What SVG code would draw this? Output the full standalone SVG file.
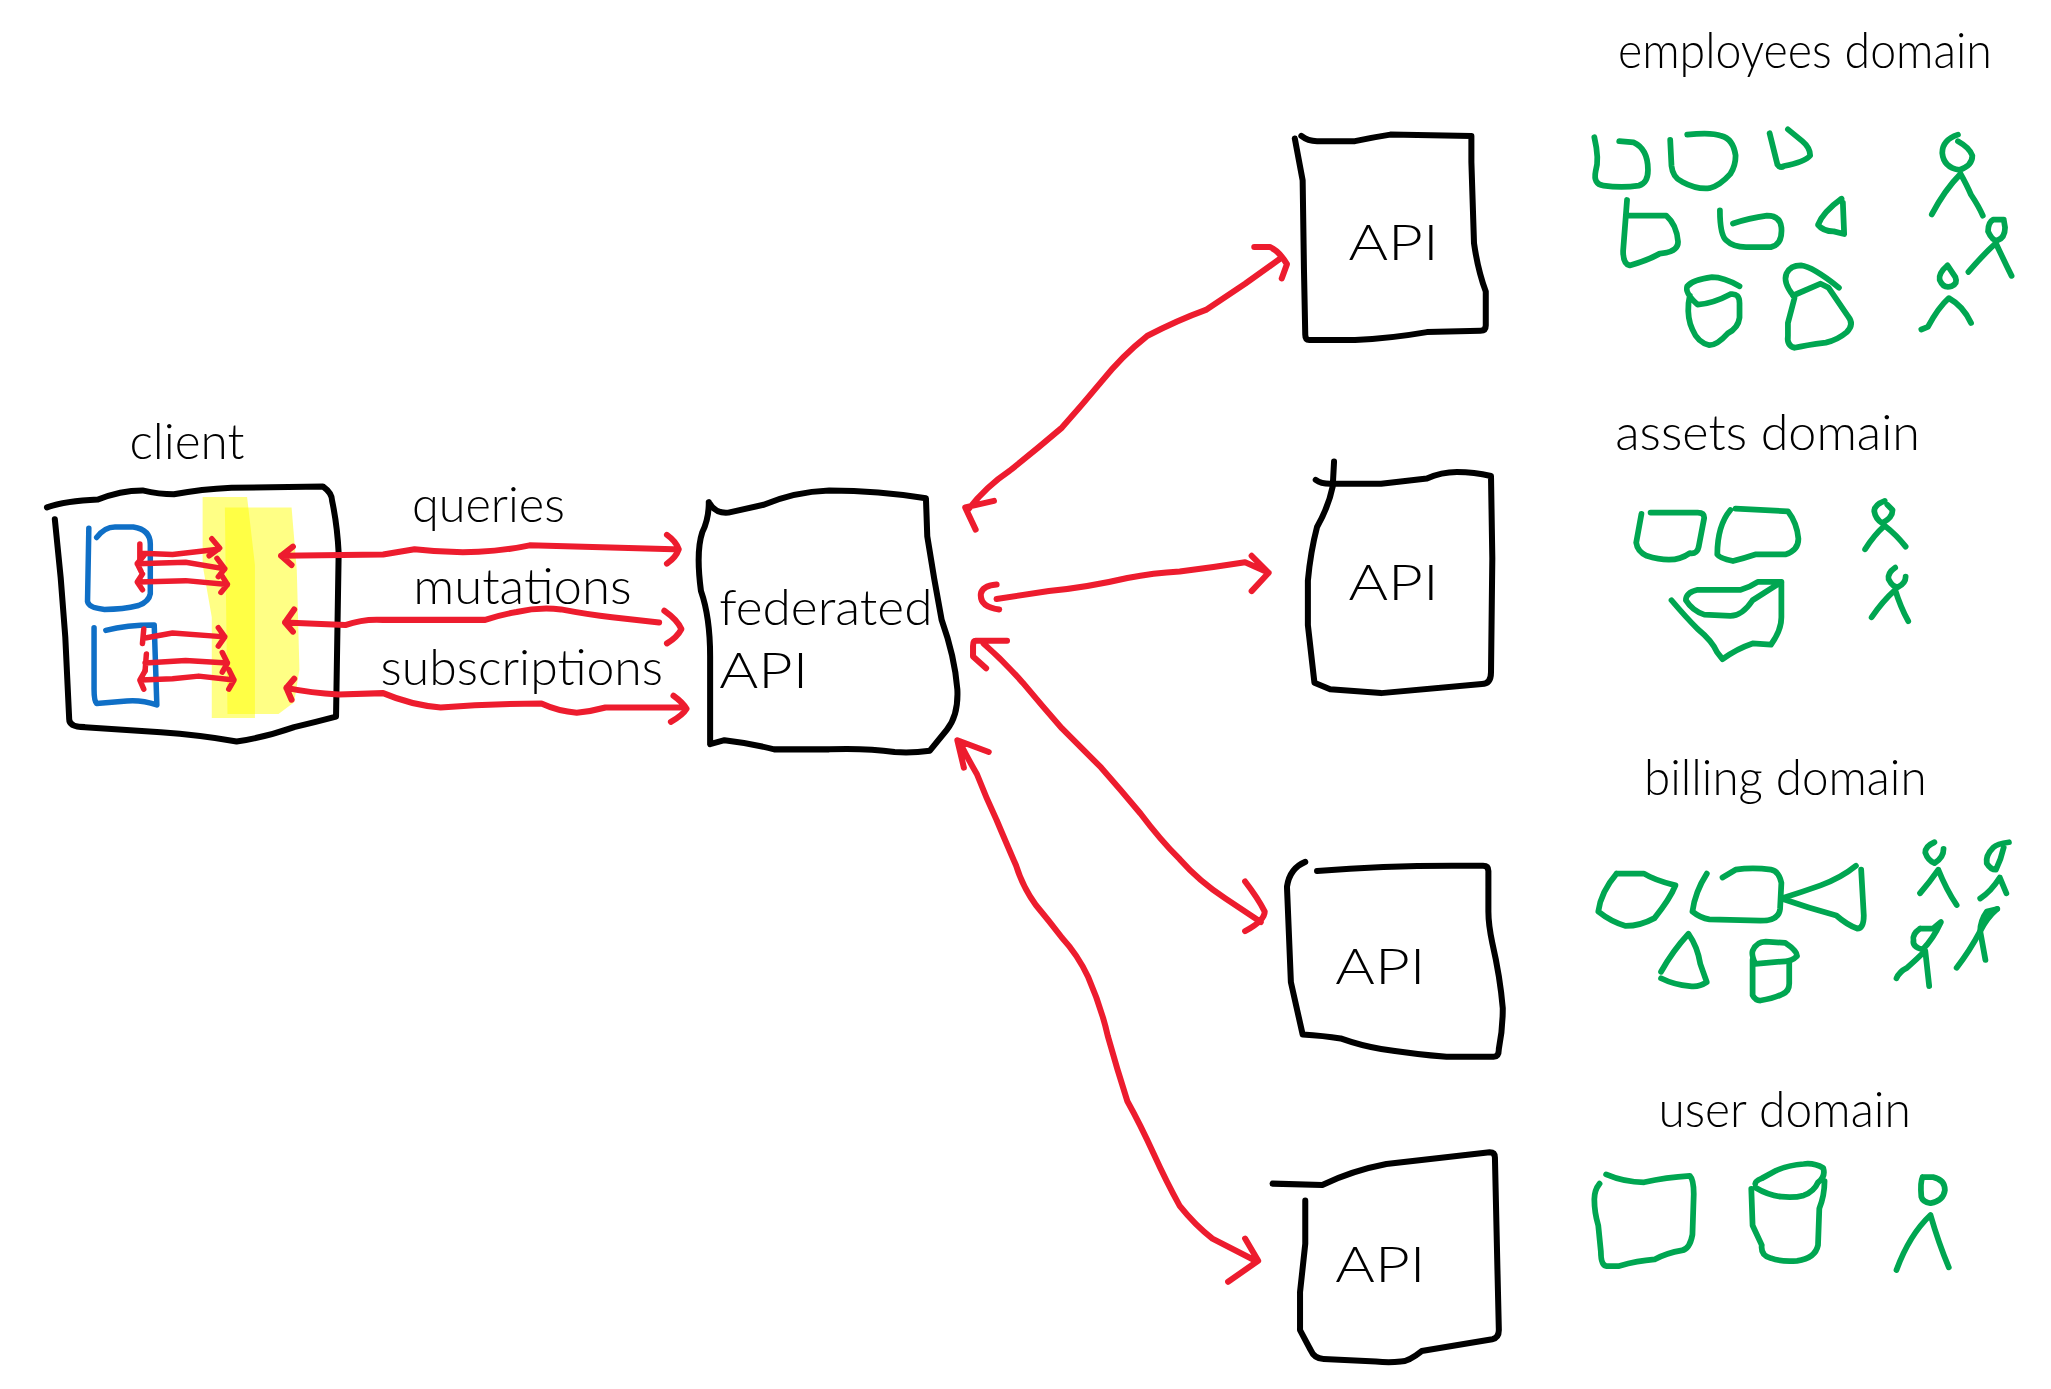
<svg xmlns="http://www.w3.org/2000/svg" width="2051" height="1389" viewBox="0 0 2051 1389">
<style>
path{fill:none;stroke-linecap:round;stroke-linejoin:round}
.k path{stroke:#000;stroke-width:4.6}
.g path{stroke:#00a651;stroke-width:4.4}
.b path{stroke:#0f6fc6;stroke-width:4.2}
#connectors path{stroke:#ed1c2e;stroke-width:4.6}
#connectors .thin{stroke-width:4.2}
.y{fill:#ffff00;opacity:.48}
text{font-family:"Lato","Open Sans","Liberation Sans",sans-serif;font-weight:300;font-size:38px;fill:#000}
</style>
<rect width="2051" height="1389" fill="#fff"/>
<g transform="translate(2.5 2.5) scale(1.308)">
<g id="client" class="k">
<path d="M34,386 Q48,381 73,380 Q90,373 107,373 Q120,376 131,376 Q152,372 175,371 L245,370 Q252,375 252,381 Q256,400 257,421 L255,546 Q240,550 223,554 Q200,562 179,565 Q150,560 121,558 L63,554 Q51,554 51,548 L48,485 Q45,440 40,395"/>
<polygon class="y" points="153,378 187,378 193,430 193,547 160,547 160,470 153,430"/>
<polygon class="y" points="170,386 221,386 225,434 227,510 223,535 211,544 172,544"/>
<text x="97" y="349" textLength="88" lengthAdjust="spacingAndGlyphs">client</text>
</g>
<g id="client-view-1" class="b"><path d="M72,409 Q78,401 86,401 L100,401 Q113,403 113,414 L113,452 Q112,458 104,461 Q92,464 78,464 Q66,463 65,458 L66,402"/></g>
<g id="client-view-2" class="b"><path d="M79,480 Q95,476 116,476 L118,537 Q106,533 95,534 L72,536 Q70,534 70,525 L70,478"/></g>
<g id="federated" class="k">
<path d="M540,382 Q545,391 555,390 L582,384 Q605,374 632,373 Q670,373 706,379 L707,408 Q712,440 718,472 Q728,500 730,525 Q731,545 722,556 L709,572 Q695,574 682,573 Q660,570 632,571 L590,571 Q570,566 552,564 L541,567 L541,500 Q541,470 534,450 Q530,420 535,405 Q540,395 540,382"/>
<text x="548" y="476" textLength="163" lengthAdjust="spacingAndGlyphs">federated</text>
<text x="548" y="524" textLength="68" lengthAdjust="spacingAndGlyphs">API</text>
</g>
<g id="api-employees" class="k">
<path d="M993,102 Q998,106 1005,106 L1034,106 Q1048,103 1061,101 L1123,102 L1123,122 L1125,184 Q1128,205 1134,221 L1134,247 Q1134,251 1130,251 L1089,252 Q1060,257 1034,258 L999,258 Q996,258 996,254 L995,204 L994,136 L988,104"/>
<text x="1029" y="197" textLength="69" lengthAdjust="spacingAndGlyphs">API</text>
</g>
<g id="api-assets" class="k">
<path d="M1004,365 Q1008,368 1015,368 L1054,368 Q1072,366 1089,364 Q1100,359 1112,359 Q1125,359 1138,362 L1139,425 L1138,512 Q1138,521 1131,521 L1054,528 L1015,525 L1003,520 L998,476 L998,442 Q1000,420 1005,401 Q1014,385 1017,370 L1018,351"/>
<text x="1029" y="457" textLength="69" lengthAdjust="spacingAndGlyphs">API</text>
</g>
<g id="api-billing" class="k">
<path d="M996,657 Q984,662 982,676 L985,749 L994,789 Q1010,790 1023,792 Q1040,798 1054,800 Q1080,804 1104,806 L1140,806 Q1144,806 1144,800 Q1147,785 1147,769 Q1145,745 1139,719 Q1136,705 1136,695 L1136,664 Q1136,660 1132,660 L1108,660 Q1055,660 1005,664"/>
<text x="1019" y="750" textLength="69" lengthAdjust="spacingAndGlyphs">API</text>
</g>
<g id="api-user" class="k">
<path d="M971,903 L1009,904 Q1032,893 1058,888 L1137,879 Q1141,879 1141,883 L1143,972 L1144,1015 Q1144,1021 1139,1022 L1085,1031 Q1075,1039 1069,1039 Q1060,1040 1050,1039 L1010,1037 Q1003,1037 1000,1030 L992,1015 L992,986 L996,949 L996,916"/>
<text x="1019" y="978" textLength="69" lengthAdjust="spacingAndGlyphs">API</text>
</g>
<g id="employees-domain" class="g">
<text x="1235" y="50" textLength="286" lengthAdjust="spacingAndGlyphs">employees domain</text>
<path d="M1217,103 Q1221,120 1218,129 Q1216,139 1224,140 Q1238,142 1251,140 Q1258,138 1258,128 Q1258,112 1247,107 L1236,106"/>
<path d="M1288,101 Q1307,99 1314,102 Q1323,104 1325,117 Q1325,125 1321,131 Q1313,140 1305,142 Q1295,143 1284,137 Q1277,134 1276,125 L1275,105"/>
<path d="M1351,100 L1357,124 Q1359,127 1362,125 Q1378,122 1382,117 Q1382,111 1376,106 L1365,97"/>
<path d="M1495,101 Q1483,105 1483,115 Q1484,126 1496,128 Q1506,125 1506,117 Q1504,111 1495,106"/>
<path d="M1475,162 Q1485,143 1497,131 Q1502,140 1505,147 Q1511,156 1514,163"/>
<path d="M1242,151 L1239,190 Q1239,200 1244,201 Q1258,197 1267,192 Q1281,191 1281,183 Q1280,170 1272,163 L1242,163"/>
<path d="M1313,159 Q1313,178 1318,182 Q1323,187 1333,187 L1352,187 Q1361,185 1360,172 Q1359,163 1349,163 Q1335,165 1323,169"/>
<path d="M1406,150 Q1392,160 1388,170 Q1392,175 1400,175 L1408,177 L1407,153"/>
<path d="M1530,166 L1522,166 Q1518,168 1518,175 Q1521,182 1525,182 Q1531,180 1531,172 L1530,166"/>
<path d="M1503,206 Q1514,193 1524,184 Q1530,197 1536,209"/>
<path d="M1487,201 Q1480,207 1481,212 Q1484,219 1490,217 Q1495,215 1493,210 L1487,201"/>
<path d="M1467,250 L1472,248 Q1480,233 1488,226 Q1499,232 1505,245"/>
<path d="M1328,217 Q1316,210 1307,210 Q1292,212 1288,217 Q1286,222 1296,231 Q1308,230 1321,223 Q1328,222 1328,230 L1328,241 Q1327,249 1319,253 Q1311,262 1305,262 Q1296,260 1292,250 Q1288,242 1289,230 L1290,224"/>
<path d="M1369,224 Q1361,214 1364,207 Q1367,201 1375,201 Q1384,202 1404,218"/>
<path d="M1369,224 L1390,215 L1396,218 L1411,240 Q1416,246 1410,252 Q1403,258 1394,260 Q1378,262 1370,264 Q1364,262 1365,255 L1365,245 L1370,226"/>
</g>
<g id="assets-domain" class="g">
<text x="1233" y="342" textLength="233" lengthAdjust="spacingAndGlyphs">assets domain</text>
<path d="M1253,391 L1249,413 Q1250,420 1257,423 Q1266,426 1274,426 Q1283,426 1290,421 Q1296,422 1297,415 L1301,394 Q1301,390 1296,390 L1260,390"/>
<path d="M1321,388 Q1311,400 1311,422 Q1313,425 1323,427 Q1331,425 1340,422 L1363,422 Q1373,419 1373,410 Q1372,398 1365,389 L1325,387"/>
<path d="M1276,457 Q1287,470 1296,479 Q1307,488 1311,497 L1315,502 Q1326,494 1338,490 L1352,491 Q1360,480 1360,470 L1360,443 L1342,443 Q1336,447 1329,449 L1296,449 Q1287,451 1287,457 Q1292,465 1301,468 L1321,469 Q1330,469 1338,457 L1360,443"/>
<path d="M1439,381 Q1431,384 1431,389 Q1432,395 1437,398 Q1445,394 1445,388 L1441,384"/>
<path d="M1424,418 Q1431,407 1439,400 Q1448,407 1455,416"/>
<path d="M1447,432 Q1441,436 1442,441 Q1445,447 1449,447 Q1455,444 1455,439"/>
<path d="M1429,470 Q1437,458 1447,449 Q1451,462 1457,473"/>
</g>
<g id="billing-domain" class="g">
<text x="1255" y="606" textLength="216" lengthAdjust="spacingAndGlyphs">billing domain</text>
<path d="M1234,666 L1255,666 Q1263,671 1279,675 Q1275,685 1263,700 Q1252,706 1241,706 Q1230,703 1220,695 Q1222,680 1234,666"/>
<path d="M1303,666 Q1294,680 1292,695 Q1298,700 1305,701 L1344,702 Q1358,702 1359,693 L1360,673 Q1358,664 1352,663 Q1338,661 1325,663 L1315,669"/>
<path d="M1360,685 Q1376,680 1390,675 Q1406,669 1417,660"/>
<path d="M1421,663 L1423,698 Q1423,708 1418,708 Q1410,705 1402,698 Q1380,692 1360,685"/>
<path d="M1268,741 Q1277,725 1289,712 Q1296,722 1298,735 L1303,749 Q1297,753 1290,752 Q1278,751 1268,746"/>
<path d="M1340,735 Q1337,728 1338,725 Q1341,718 1348,718 L1363,719 Q1372,725 1372,729 Q1368,733 1363,733 L1340,735"/>
<path d="M1338,732 L1338,759 Q1340,763 1344,763 Q1353,762 1361,758 Q1366,756 1366,750 L1366,734"/>
<path d="M1477,642 Q1470,645 1470,650 Q1472,656 1477,658 Q1484,654 1484,647"/>
<path d="M1466,681 Q1473,673 1480,663 Q1486,678 1494,690"/>
<path d="M1534,642 Q1525,643 1522,646 Q1516,652 1517,658 Q1520,663 1524,663 Q1528,655 1530,646"/>
<path d="M1512,685 Q1520,680 1527,669 L1532,681"/>
<path d="M1466,708 L1476,708 L1482,703 Q1476,716 1468,724 Q1460,722 1461,717 Q1460,712 1466,708"/>
<path d="M1448,746 Q1450,741 1456,738 Q1464,731 1470,725 L1473,752"/>
<path d="M1525,693 L1517,695 Q1512,702 1512,710 L1516,732"/>
<path d="M1494,738 Q1504,725 1512,710 Q1517,700 1525,693"/>
</g>
<g id="user-domain" class="g">
<text x="1266" y="860" textLength="193" lengthAdjust="spacingAndGlyphs">user domain</text>
<path d="M1226,896 Q1240,902 1255,902 Q1272,898 1290,897 Q1293,900 1293,911 L1292,942 Q1290,953 1284,954 Q1272,956 1263,961 Q1250,962 1236,966 L1226,966 Q1222,965 1222,955 L1220,935 Q1217,925 1217,915 Q1217,908 1221,903"/>
<path d="M1340,906 Q1350,912 1360,913 Q1370,914 1377,912 Q1385,909 1388,902 Q1394,898 1392,891 Q1385,887 1377,888 Q1365,889 1356,893 L1345,899 Q1340,901 1340,903"/>
<path d="M1337,907 L1338,935 L1345,950 Q1344,958 1352,960 Q1360,963 1372,962 Q1386,960 1388,950 L1389,922 Q1393,912 1393,901"/>
<path d="M1468,898 L1476,898 Q1485,900 1485,908 Q1484,916 1474,918 Q1468,917 1467,913 Q1466,902 1468,898"/>
<path d="M1448,969 Q1458,942 1474,927 Q1480,948 1488,967"/>
</g>
<g id="connectors">
<path class="thin" d="M106,421 L130,422 L165,418 M105,414 L105,429 M160,410 L166,417 L158,423"/>
<path class="thin" d="M103,429 L140,428 L170,433 M108,423 L103,429 L106,435 M164,425 L170,433 L165,439"/>
<path class="thin" d="M104,443 L140,442 L172,445 M107,437 L103,443 L107,449 M167,437 L172,445 L167,451"/>
<path class="thin" d="M108,486 L130,482 L170,485 M108,479 L107,490 M165,478 L170,485 L165,492"/>
<path class="thin" d="M109,505 L140,503 L172,505 M110,498 L109,511 M168,497 L172,505 L168,512"/>
<path class="thin" d="M106,518 L130,517 L150,515 L177,518 M109,511 L105,518 L108,525 M173,510 L177,518 L173,525"/>
<path d="M213,423 L291,422 Q303,420 315,418 Q340,421 364,420 Q384,419 403,415 L513,418 M222,416 L213,423 L221,430 M508,407 Q515,412 517,418 Q515,424 508,429"/>
<path d="M216,474 L262,476 Q276,471 291,472 L369,472 Q381,468 393,466 Q410,462 427,464 Q448,468 466,470 L502,474 M223,464 L216,474 L222,481 M506,465 Q516,472 519,479 Q516,485 508,490"/>
<path d="M217,524 Q236,528 257,529 L291,528 Q312,537 335,539 Q372,536 412,536 Q425,542 439,543 Q450,542 461,539 L518,539 M223,517 L217,524 L221,533 M513,530 Q520,535 523,540 Q520,545 511,550"/>
<path d="M738,388 Q752,370 770,358 Q790,342 810,325 Q825,308 840,290 Q856,270 875,255 Q898,243 920,235 Q935,225 950,215 L978,195 M758,381 L736,386 L744,403 M957,187 L969,187 Q976,190 982,200 L978,211"/>
<path d="M760,456 Q780,453 800,450 Q830,447 860,440 Q880,436 900,435 Q925,432 950,428 L968,436 M760,445 Q749,446 748,452 Q747,462 762,464 M955,423 L968,436 L955,450"/>
<path d="M750,490 Q765,503 780,520 Q795,538 810,555 Q825,570 840,585 Q855,602 870,620 Q885,640 900,655 Q915,672 935,685 L962,703 M768,488 L744,488 Q742,488 742,492 L742,500 L752,509 M950,672 Q960,685 965,695 Q965,702 950,710"/>
<path d="M732,566 Q738,578 745,590 Q752,608 760,625 Q768,644 775,660 Q780,676 790,690 Q800,702 810,715 Q822,728 830,745 Q840,768 845,790 Q852,815 860,840 Q870,858 880,880 Q890,902 900,920 Q912,935 925,945 L958,962 M735,585 L730,564 L754,573 M950,945 L960,962 L937,978"/>
</g>
<g id="queries-label" class="k"><text x="313" y="397" textLength="117" lengthAdjust="spacingAndGlyphs">queries</text></g>
<g id="mutations-label" class="k"><text x="314" y="460" textLength="167" lengthAdjust="spacingAndGlyphs">mutations</text></g>
<g id="subscriptions-label" class="k"><text x="289" y="522" textLength="216" lengthAdjust="spacingAndGlyphs">subscriptions</text></g>
</g>
</svg>
